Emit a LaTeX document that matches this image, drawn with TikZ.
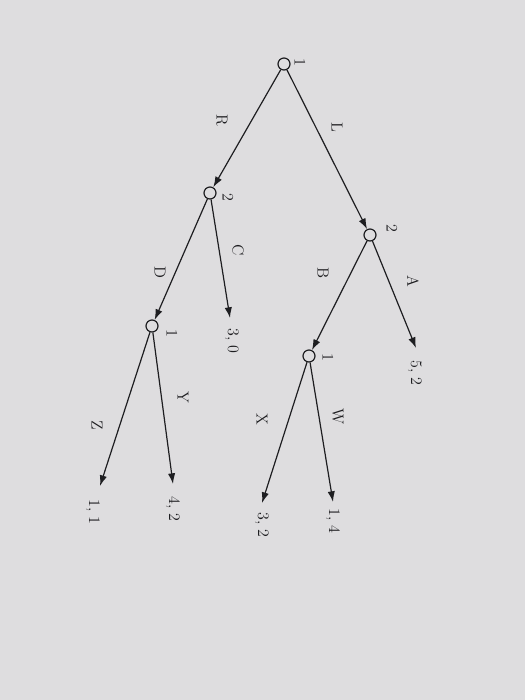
\documentclass[tikz,border=0pt]{standalone}
\usetikzlibrary{arrows.meta}
\definecolor{paper}{RGB}{222,221,223}
\definecolor{ink}{RGB}{30,30,33}

\tikzset{
  dec/.style={draw=ink,circle,line width=0.9pt,inner sep=0pt,minimum size=9pt},
  lbl/.style={rotate=-90,inner sep=0.75pt,text=ink,font=\large},
  mv/.style={draw=ink,line width=0.9pt,-{Latex[length=8pt,width=5.5pt]}}
}

\begin{document}
\begin{tikzpicture}[x=0.75pt,y=0.75pt,yscale=-1,xscale=1]
%set diagram left start at 0, and has height of 700
\fill[paper] (0,0) rectangle (525,700);
\useasboundingbox (0,0) rectangle (525,700);

%Decision nodes
\node[dec] (root) at (284,64) {};
\node[dec] (p2a) at (370,235) {};
\node[dec] (p2b) at (210,193) {};
\node[dec] (p1a) at (309,356) {};
\node[dec] (p1b) at (152,326) {};

%End points
\coordinate (tA) at (416,348);
\coordinate (tC) at (230,318);
\coordinate (tW) at (333,502);
\coordinate (tX) at (262,503);
\coordinate (tY) at (173,484);
\coordinate (tZ) at (100,486);

%Moves
\draw[mv] (root) -- (p2a);
\draw[mv] (root) -- (p2b);
\draw[mv] (p2a) -- (tA);
\draw[mv] (p2a) -- (p1a);
\draw[mv] (p2b) -- (tC);
\draw[mv] (p2b) -- (p1b);
\draw[mv] (p1a) -- (tW);
\draw[mv] (p1a) -- (tX);
\draw[mv] (p1b) -- (tY);
\draw[mv] (p1b) -- (tZ);

% Player labels
\node[lbl] (pl0) at (300,62) {1};
\node[lbl] (pl1) at (392,228) {2};
\node[lbl] (pl2) at (228,197) {2};
\node[lbl] (pl3) at (328,357) {1};
\node[lbl] (pl4) at (172,333) {1};

% Move labels
\node[lbl] (mL) at (337,127) {L};
\node[lbl] (mR) at (222,120) {R};
\node[lbl] (mA) at (413,281) {A};
\node[lbl] (mB) at (323,273) {B};
\node[lbl] (mC) at (238,250) {C};
\node[lbl] (mD) at (160,272) {D};
\node[lbl] (mW) at (338,417) {W};
\node[lbl] (mX) at (262,419) {X};
\node[lbl] (mY) at (183,397) {Y};
\node[lbl] (mZ) at (97,425) {Z};

% Payoffs
\node[lbl] (pA) at (415,373) {5, 2};
\node[lbl] (pC) at (232,341) {3, 0};
\node[lbl] (pW) at (333,521) {1, 4};
\node[lbl] (pX) at (262,525) {3, 2};
\node[lbl] (pY) at (173,509) {4, 2};
\node[lbl] (pZ) at (93,512) {1, 1};

\end{tikzpicture}
\end{document}
